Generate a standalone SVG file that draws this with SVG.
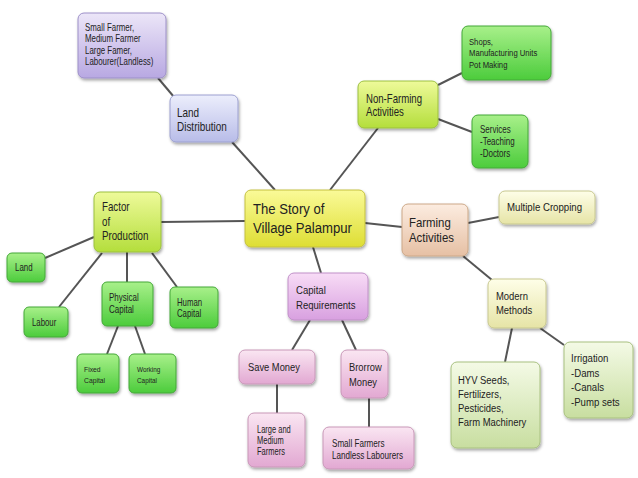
<svg xmlns="http://www.w3.org/2000/svg" width="638" height="478" viewBox="0 0 638 478">
<style>
text{font-family:"Liberation Sans",Arial,sans-serif;fill:#222}
.n rect{stroke-width:1;filter:url(#sh)}
#connectors line{stroke:#555;stroke-width:2}
</style>
<defs>
<filter id="sh" x="-20%" y="-20%" width="140%" height="150%"><feDropShadow dx="1" dy="2" stdDeviation="1.5" flood-color="#000" flood-opacity="0.35"/></filter>
<linearGradient id="gPur" x1="0" y1="0" x2="0" y2="1"><stop offset="0" stop-color="#ece6f8"/><stop offset="1" stop-color="#b8a8e2"/></linearGradient>
<linearGradient id="gBlu" x1="0" y1="0" x2="0" y2="1"><stop offset="0" stop-color="#eceefc"/><stop offset="1" stop-color="#b8bce8"/></linearGradient>
<linearGradient id="gYG" x1="0" y1="0" x2="0" y2="1"><stop offset="0" stop-color="#eefa9a"/><stop offset="1" stop-color="#b4de3c"/></linearGradient>
<linearGradient id="gGr" x1="0" y1="0" x2="0" y2="1"><stop offset="0" stop-color="#a8f08a"/><stop offset="1" stop-color="#4ccc3c"/></linearGradient>
<linearGradient id="gYel" x1="0" y1="0" x2="0" y2="1"><stop offset="0" stop-color="#fafa98"/><stop offset="1" stop-color="#dede34"/></linearGradient>
<linearGradient id="gPink" x1="0" y1="0" x2="0" y2="1"><stop offset="0" stop-color="#fae6f2"/><stop offset="1" stop-color="#e2a8d2"/></linearGradient>
<linearGradient id="gMag" x1="0" y1="0" x2="0" y2="1"><stop offset="0" stop-color="#f8dcf6"/><stop offset="1" stop-color="#d8a0e0"/></linearGradient>
<linearGradient id="gPeach" x1="0" y1="0" x2="0" y2="1"><stop offset="0" stop-color="#fcece0"/><stop offset="1" stop-color="#e6c0a4"/></linearGradient>
<linearGradient id="gCream" x1="0" y1="0" x2="0" y2="1"><stop offset="0" stop-color="#fefee8"/><stop offset="1" stop-color="#e6e4a6"/></linearGradient>
<linearGradient id="gPG" x1="0" y1="0" x2="0" y2="1"><stop offset="0" stop-color="#f4fae6"/><stop offset="1" stop-color="#c8dea0"/></linearGradient>
</defs>
<rect width="638" height="478" fill="#fff"/>
<g id="connectors">
<line x1="158" y1="78" x2="174" y2="97"/>
<line x1="232" y1="142" x2="275" y2="190"/>
<line x1="330" y1="190" x2="378" y2="128"/>
<line x1="438" y1="85" x2="462" y2="73"/>
<line x1="438" y1="119" x2="472" y2="132"/>
<line x1="161" y1="222" x2="245" y2="221"/>
<line x1="94" y1="237" x2="45" y2="258"/>
<line x1="102" y1="253" x2="59" y2="307"/>
<line x1="127" y1="252" x2="127" y2="282"/>
<line x1="152" y1="253" x2="177" y2="287"/>
<line x1="118" y1="326" x2="107" y2="354"/>
<line x1="135" y1="326" x2="145" y2="354"/>
<line x1="313" y1="247" x2="321" y2="273"/>
<line x1="365" y1="223" x2="402" y2="227"/>
<line x1="468" y1="223" x2="499" y2="217"/>
<line x1="463" y1="256" x2="492" y2="280"/>
<line x1="310" y1="320" x2="292" y2="350"/>
<line x1="342" y1="320" x2="356" y2="350"/>
<line x1="277" y1="384" x2="277" y2="413"/>
<line x1="369" y1="398" x2="369" y2="427"/>
<line x1="512" y1="328" x2="505" y2="362"/>
<line x1="540" y1="328" x2="564" y2="345"/>
</g>
<g id="smallfarmer" class="n"><rect x="78" y="13" width="88" height="65" rx="6" fill="url(#gPur)" stroke="#9d90c8"/>
<text font-size="10" transform="translate(85 0) scale(0.79 1)"><tspan x="0" y="31">Small Farmer,</tspan><tspan x="0" y="42.5">Medium Farmer</tspan><tspan x="0" y="54">Large Famer,</tspan><tspan x="0" y="65.5">Labourer(Landless)</tspan></text></g>
<g id="landdist" class="n"><rect x="170" y="95" width="68" height="47" rx="6" fill="url(#gBlu)" stroke="#9ca0d0"/>
<text font-size="12" transform="translate(177 0) scale(0.83 1)"><tspan x="0" y="117">Land</tspan><tspan x="0" y="131">Distribution</tspan></text></g>
<g id="nonfarming" class="n"><rect x="358" y="81" width="80" height="47" rx="6" fill="url(#gYG)" stroke="#9cc040"/>
<text font-size="12" transform="translate(366 0) scale(0.8 1)"><tspan x="0" y="103">Non-Farming</tspan><tspan x="0" y="116">Activities</tspan></text></g>
<g id="shops" class="n"><rect x="462" y="26" width="89" height="54" rx="6" fill="url(#gGr)" stroke="#44a838"/>
<text font-size="9.5" transform="translate(469 0) scale(0.81 1)"><tspan x="0" y="45">Shops,</tspan><tspan x="0" y="56.5">Manufacturing Units</tspan><tspan x="0" y="68">Pot Making</tspan></text></g>
<g id="services" class="n"><rect x="472" y="115" width="56" height="53" rx="6" fill="url(#gGr)" stroke="#44a838"/>
<text font-size="10" transform="translate(480 0) scale(0.8 1)"><tspan x="0" y="133.5">Services</tspan><tspan x="0" y="145.5">-Teaching</tspan><tspan x="0" y="157.5">-Doctors</tspan></text></g>
<g id="factor" class="n"><rect x="94" y="192" width="67" height="60" rx="6" fill="url(#gYG)" stroke="#9cc040"/>
<text font-size="12" transform="translate(102 0) scale(0.81 1)"><tspan x="0" y="211">Factor</tspan><tspan x="0" y="226">of</tspan><tspan x="0" y="240">Production</tspan></text></g>
<g id="land" class="n"><rect x="7" y="253" width="38" height="29" rx="5" fill="url(#gGr)" stroke="#44a838"/>
<text font-size="10" transform="translate(15 0) scale(0.79 1)" x="0" y="271.5">Land</text></g>
<g id="labour" class="n"><rect x="24" y="307" width="44" height="30" rx="5" fill="url(#gGr)" stroke="#44a838"/>
<text font-size="10" transform="translate(32 0) scale(0.78 1)" x="0" y="326.5">Labour</text></g>
<g id="physical" class="n"><rect x="102" y="282" width="51" height="44" rx="5" fill="url(#gGr)" stroke="#44a838"/>
<text font-size="10" transform="translate(109 0) scale(0.8 1)"><tspan x="0" y="301.5">Physical</tspan><tspan x="0" y="313.5">Capital</tspan></text></g>
<g id="human" class="n"><rect x="170" y="287" width="48" height="41" rx="5" fill="url(#gGr)" stroke="#44a838"/>
<text font-size="10" transform="translate(177 0) scale(0.78 1)"><tspan x="0" y="306.5">Human</tspan><tspan x="0" y="317.5">Capital</tspan></text></g>
<g id="fixed" class="n"><rect x="77" y="354" width="42" height="39" rx="5" fill="url(#gGr)" stroke="#44a838"/>
<text font-size="8" transform="translate(84 0) scale(0.85 1)"><tspan x="0" y="372">Fixed</tspan><tspan x="0" y="383">Capital</tspan></text></g>
<g id="working" class="n"><rect x="129" y="354" width="47" height="39" rx="5" fill="url(#gGr)" stroke="#44a838"/>
<text font-size="8" transform="translate(137 0) scale(0.8 1)"><tspan x="0" y="372">Working</tspan><tspan x="0" y="383">Capital</tspan></text></g>
<g id="story" class="n"><rect x="245" y="190" width="120" height="57" rx="6" fill="url(#gYel)" stroke="#c4c040"/>
<text font-size="15" transform="translate(253 0) scale(0.875 1)"><tspan x="0" y="214">The Story of</tspan><tspan x="0" y="233">Village Palampur</tspan></text></g>
<g id="capreq" class="n"><rect x="288" y="273" width="80" height="47" rx="6" fill="url(#gMag)" stroke="#c090c8"/>
<text font-size="11" transform="translate(296 0) scale(0.87 1)"><tspan x="0" y="294">Capital</tspan><tspan x="0" y="309">Requirements</tspan></text></g>
<g id="farming" class="n"><rect x="402" y="204" width="66" height="52" rx="6" fill="url(#gPeach)" stroke="#cca888"/>
<text font-size="12" transform="translate(409 0) scale(0.95 1)"><tspan x="0" y="227">Farming</tspan><tspan x="0" y="242">Activities</tspan></text></g>
<g id="multiple" class="n"><rect x="499" y="191" width="96" height="33" rx="6" fill="url(#gCream)" stroke="#c8c890"/>
<text font-size="10.5" transform="translate(507 0) scale(0.92 1)" x="0" y="211.5">Multiple Cropping</text></g>
<g id="modern" class="n"><rect x="488" y="279" width="58" height="49" rx="6" fill="url(#gCream)" stroke="#c8c890"/>
<text font-size="10.5" transform="translate(496 0) scale(0.9 1)"><tspan x="0" y="300.5">Modern</tspan><tspan x="0" y="314.5">Methods</tspan></text></g>
<g id="save" class="n"><rect x="239" y="350" width="76" height="34" rx="6" fill="url(#gPink)" stroke="#c898b8"/>
<text font-size="11" transform="translate(248 0) scale(0.85 1)" x="0" y="371">Save Money</text></g>
<g id="borrow" class="n"><rect x="341" y="350" width="47" height="48" rx="6" fill="url(#gPink)" stroke="#c898b8"/>
<text font-size="11" transform="translate(349 0) scale(0.85 1)"><tspan x="0" y="371">Brorrow</tspan><tspan x="0" y="386">Money</tspan></text></g>
<g id="largemedium" class="n"><rect x="248" y="413" width="57" height="54" rx="6" fill="url(#gPink)" stroke="#c898b8"/>
<text font-size="10" transform="translate(257 0) scale(0.75 1)"><tspan x="0" y="433.5">Large and</tspan><tspan x="0" y="444.5">Medium</tspan><tspan x="0" y="455.5">Farmers</tspan></text></g>
<g id="smalllandless" class="n"><rect x="323" y="427" width="91" height="42" rx="6" fill="url(#gPink)" stroke="#c898b8"/>
<text font-size="10" transform="translate(332 0) scale(0.81 1)"><tspan x="0" y="447.5">Small Farmers</tspan><tspan x="0" y="459.5">Landless Labourers</tspan></text></g>
<g id="hyv" class="n"><rect x="451" y="362" width="89" height="86" rx="6" fill="url(#gPG)" stroke="#a8c080"/>
<text font-size="11" transform="translate(458 0) scale(0.86 1)"><tspan x="0" y="384">HYV Seeds,</tspan><tspan x="0" y="398">Fertilizers,</tspan><tspan x="0" y="412">Pesticides,</tspan><tspan x="0" y="426.5">Farm Machinery</tspan></text></g>
<g id="irrigation" class="n"><rect x="564" y="342" width="69" height="76" rx="6" fill="url(#gPG)" stroke="#a8c080"/>
<text font-size="11" transform="translate(571 0) scale(0.875 1)"><tspan x="0" y="362">Irrigation</tspan><tspan x="0" y="377">-Dams</tspan><tspan x="0" y="391.5">-Canals</tspan><tspan x="0" y="406">-Pump sets</tspan></text></g>
</svg>
